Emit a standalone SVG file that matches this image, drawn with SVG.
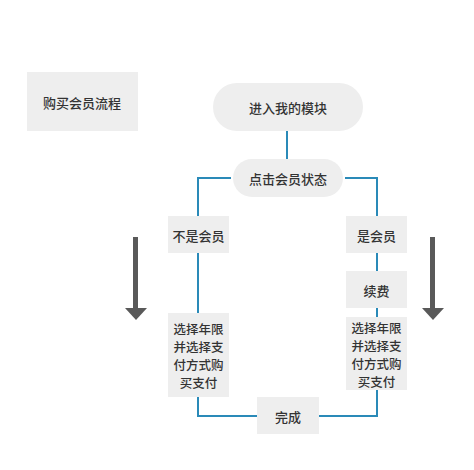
<svg xmlns="http://www.w3.org/2000/svg" width="474" height="470" viewBox="0 0 474 470">
<style>
.box{fill:#eeeeee;}
.t{font-family:"Noto Sans CJK SC","Noto Sans",sans-serif;font-size:13px;font-weight:500;fill:#333333;text-anchor:middle;dominant-baseline:central;}
.m{font-size:12.5px;}
.ln{fill:none;stroke:#2a8ab8;stroke-width:2;}
.arr{fill:#595959;}
</style>
<rect width="474" height="470" fill="#ffffff"/>
<g id="title">
<rect class="box" x="27" y="72" width="111" height="59"/>
<text class="t" x="82" y="102">购买会员流程</text>
</g>
<g id="connectors">
<line class="ln" x1="287" y1="131" x2="287" y2="159"/>
<polyline class="ln" points="231,178 198,178 198,216"/>
<polyline class="ln" points="345,178 377,178 377,216"/>
<line class="ln" x1="198" y1="253" x2="198" y2="313"/>
<line class="ln" x1="377" y1="253" x2="377" y2="271"/>
<line class="ln" x1="377" y1="308" x2="377" y2="317"/>
<polyline class="ln" points="198,397 198,416 257,416"/>
<polyline class="ln" points="319,416 377,416 377,390"/>
</g>
<g id="enter">
<rect class="box" x="213" y="83" width="150" height="48" rx="24"/>
<text class="t" x="288" y="107">进入我的模块</text>
</g>
<g id="status">
<rect class="box" x="233" y="159" width="110" height="38" rx="19"/>
<text class="t" x="288" y="178">点击会员状态</text>
</g>
<g id="notmember">
<rect class="box" x="168" y="216" width="61" height="37"/>
<text class="t" x="198.5" y="235">不是会员</text>
</g>
<g id="member">
<rect class="box" x="346" y="216" width="61" height="37"/>
<text class="t" x="376.5" y="235">是会员</text>
</g>
<g id="renew">
<rect class="box" x="346" y="271" width="61" height="37"/>
<text class="t" x="376.5" y="290">续费</text>
</g>
<g id="payleft">
<rect class="box" x="168" y="313" width="61" height="84"/>
<text class="t m" x="198.5" y="328">选择年限</text>
<text class="t m" x="198.5" y="346">并选择支</text>
<text class="t m" x="198.5" y="364">付方式购</text>
<text class="t m" x="198.5" y="382">买支付</text>
</g>
<g id="payright">
<rect class="box" x="346" y="317" width="61" height="73"/>
<text class="t m" x="376.5" y="327">选择年限</text>
<text class="t m" x="376.5" y="345">并选择支</text>
<text class="t m" x="376.5" y="363">付方式购</text>
<text class="t m" x="376.5" y="381">买支付</text>
</g>
<g id="done">
<rect class="box" x="257" y="397" width="62" height="37"/>
<text class="t" x="288" y="416">完成</text>
</g>
<g id="arrowleft">
<rect class="arr" x="133" y="237" width="5" height="72"/>
<polygon class="arr" points="125,308 147,308 136,320"/>
</g>
<g id="arrowright">
<rect class="arr" x="430" y="237" width="5" height="72"/>
<polygon class="arr" points="422,308 444,308 433,320"/>
</g>
</svg>
